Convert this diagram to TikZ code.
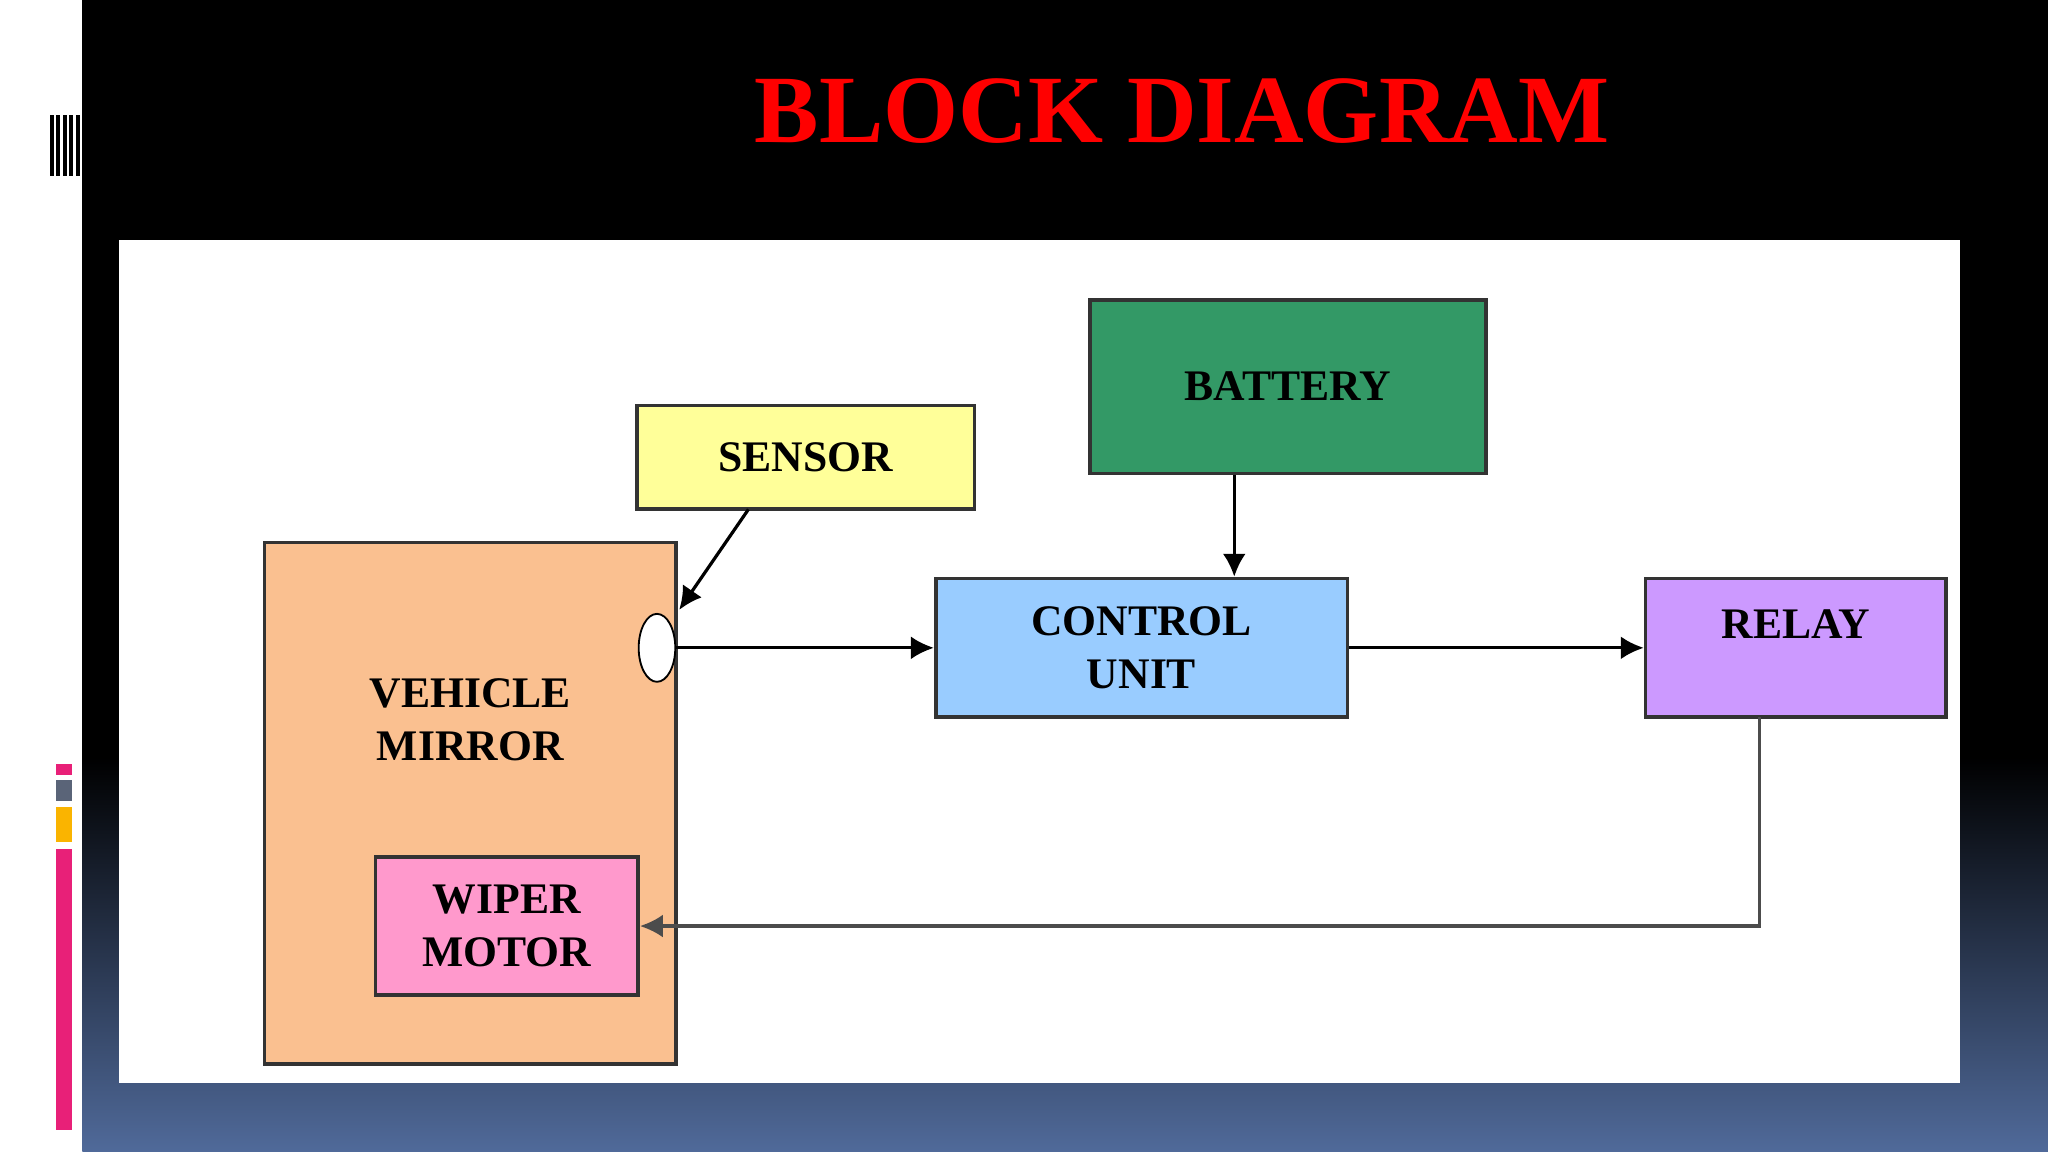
\documentclass[tikz,border=0pt]{standalone}
\usepackage{fontspec}
\setmainfont{Liberation Serif}
\usetikzlibrary{arrows.meta,shapes.geometric}
\definecolor{bgblue}{RGB}{80,106,154}
\definecolor{mpink}{RGB}{232,32,120}
\definecolor{mgray}{RGB}{90,100,120}
\definecolor{myellow}{RGB}{250,180,0}
\definecolor{cyel}{RGB}{255,255,153}
\definecolor{cgreen}{RGB}{51,153,102}
\definecolor{cpeach}{RGB}{250,192,144}
\definecolor{cblue}{RGB}{153,204,255}
\definecolor{cpurple}{RGB}{204,153,255}
\definecolor{cpink}{RGB}{255,153,204}
\begin{document}
\begin{tikzpicture}[x=0.01cm,y=-0.01cm,
 blk/.style={draw=black!80,line width=0.8pt,align=center,font=\fontsize{9.5}{11.5}\selectfont\bfseries,inner sep=0pt},
 arr/.style={draw=black,line width=0.7pt,-{Latex[length=5pt,width=5pt]}}]
\useasboundingbox (0,0) rectangle (1568,882);
\fill[white] (0,0) rectangle (63,882);
\fill[black] (63,0) rectangle (1568,581);
\shade[top color=black,bottom color=bgblue] (63,580) rectangle (1568,882);
\foreach \x in {38,43,48,53,58}{\fill[black] (\x,88) rectangle (\x+3,135);}
\fill[mpink] (43,585) rectangle (55,593);
\fill[mgray] (43,597) rectangle (55,613);
\fill[myellow] (43,618) rectangle (55,645);
\fill[mpink] (43,650) rectangle (55,865);
\node[text=red,font=\fontsize{21}{25}\selectfont\bfseries] (title) at (905,85) {BLOCK DIAGRAM};
\fill[white] (91,184) rectangle (1501,829);
\node[blk,fill=cyel,minimum width=2.58cm,minimum height=0.79cm] (sensor) at (617,350) {SENSOR};
\node[blk,fill=cgreen,minimum width=3.03cm,minimum height=1.33cm] (battery) at (986,296) {BATTERY};
\node[blk,fill=cpeach,minimum width=3.15cm,minimum height=3.99cm] (mirror) at (360,615) {};
\node[font=\fontsize{9.5}{11.5}\selectfont\bfseries,align=center] (mirrortext) at (360,551) {VEHICLE\\MIRROR};
\node[blk,fill=cblue,minimum width=3.15cm,minimum height=1.06cm] (control) at (874,496) {CONTROL\\UNIT};
\node[blk,fill=cpurple,minimum width=2.30cm,minimum height=1.06cm] (relay) at (1375,496) {};
\node[font=\fontsize{9.5}{11.5}\selectfont\bfseries] (relaytext) at (1375,478) {RELAY};
\node[blk,fill=cpink,minimum width=2.01cm,minimum height=1.06cm] (wiper) at (388,709) {WIPER\\MOTOR};
\node[draw=black,fill=white,ellipse,minimum width=0.28cm,minimum height=0.52cm,inner sep=0pt] (lens) at (503,496) {};
\coordinate (s1) at (573,390);
\coordinate (s2) at (520,467);
\draw[arr] (s1) -- (s2);
\draw[arr] (lens.east) -- (control.west);
\draw[arr] (battery.south -| 945,0) -- (control.north -| 945,0);
\draw[arr] (control.east) -- (relay.west);
\coordinate (r1) at (1347,549);
\coordinate (r2) at (1347,709);
\draw[arr,draw=black!70] (r1) -- (r2) -- (wiper.east);
\end{tikzpicture}
\end{document}
